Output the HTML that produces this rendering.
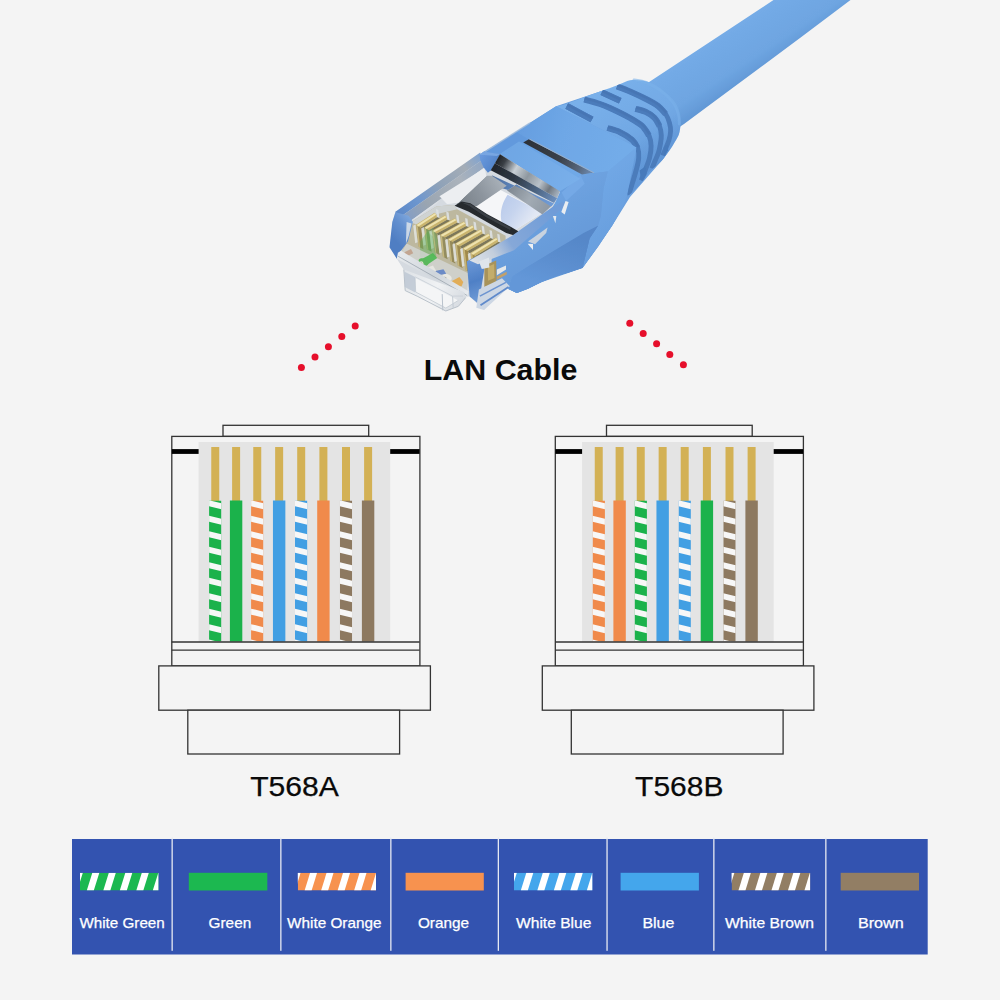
<!DOCTYPE html>
<html><head><meta charset="utf-8"><title>LAN Cable T568A / T568B</title>
<style>
html,body{margin:0;padding:0;background:#f4f4f4;}
body{width:1000px;height:1000px;position:relative;overflow:hidden;font-family:"Liberation Sans",sans-serif;}
</style></head><body>
<svg width="1000" height="1000" viewBox="0 0 1000 1000" style="position:absolute;left:0;top:0">
<defs>
<linearGradient id="gCable" gradientUnits="userSpaceOnUse" x1="700" y1="30" x2="738" y2="88"><stop offset="0" stop-color="#79b0e9"/><stop offset="0.3" stop-color="#73aae6"/><stop offset="0.75" stop-color="#6ea5e1"/><stop offset="1" stop-color="#6197d5"/></linearGradient>
<linearGradient id="gRibs" gradientUnits="userSpaceOnUse" x1="610" y1="85" x2="660" y2="170"><stop offset="0" stop-color="#79b0ea"/><stop offset="0.5" stop-color="#72a9e5"/><stop offset="1" stop-color="#6097d7"/></linearGradient>
<linearGradient id="gBody" gradientUnits="userSpaceOnUse" x1="560" y1="190" x2="600" y2="270"><stop offset="0" stop-color="#6da3e1"/><stop offset="0.6" stop-color="#689cda"/><stop offset="1" stop-color="#6397d6"/></linearGradient>
<linearGradient id="gSide" gradientUnits="userSpaceOnUse" x1="600" y1="170" x2="640" y2="215"><stop offset="0" stop-color="#70a8e6"/><stop offset="1" stop-color="#6a9fde"/></linearGradient>
<linearGradient id="gWedge" gradientUnits="userSpaceOnUse" x1="560" y1="230" x2="540" y2="285"><stop offset="0" stop-color="#5687c8"/><stop offset="0.5" stop-color="#5b8ecf"/><stop offset="1" stop-color="#6397d8"/></linearGradient>
<linearGradient id="gTop" gradientUnits="userSpaceOnUse" x1="520" y1="130" x2="620" y2="160"><stop offset="0" stop-color="#669ee0"/><stop offset="0.4" stop-color="#6ea7e6"/><stop offset="1" stop-color="#73ace9"/></linearGradient>
<linearGradient id="gRibShade" gradientUnits="userSpaceOnUse" x1="640" y1="110" x2="672" y2="150"><stop offset="0" stop-color="#5f95d6" stop-opacity="0"/><stop offset="0.5" stop-color="#5f95d6" stop-opacity="0"/><stop offset="1" stop-color="#5f94d5" stop-opacity="0.6"/></linearGradient>
<clipPath id="cRibs"><path d="M556.1,106.3 C557.8,105.9 561.7,105.4 566.0,104.0 C570.3,102.6 576.3,100.1 582.0,98.0 C587.7,95.9 594.0,93.7 600.0,91.5 C606.0,89.3 613.0,86.9 618.0,85.0 C623.0,83.1 626.0,81.0 630.0,80.3 C634.0,79.5 638.5,80.0 642.0,80.5 C645.5,81.0 648.0,81.8 651.0,83.0 C654.0,84.2 656.8,85.5 660.0,88.0 C663.2,90.5 667.2,94.5 670.0,98.0 C672.8,101.5 675.2,105.3 677.0,109.0 C678.8,112.7 680.1,116.2 680.5,120.0 C680.9,123.8 680.2,128.7 679.5,132.0 C678.8,135.3 677.9,136.6 676.0,140.0 C674.1,143.4 670.7,148.8 668.0,152.5 C665.3,156.2 663.0,159.4 660.0,162.5 C657.0,165.6 653.0,167.8 650.0,171.0 C647.0,174.2 644.8,178.6 642.0,182.0 C639.2,185.4 635.3,189.2 633.0,191.5 C630.7,193.8 628.8,195.2 628.0,196.0L627.0,196.5 L636.6,147.2Z"/></clipPath>
<linearGradient id="gRefl" gradientUnits="userSpaceOnUse" x1="498" y1="200" x2="530" y2="222"><stop offset="0" stop-color="#b7c9ea"/><stop offset="0.5" stop-color="#c6d4ee"/><stop offset="1" stop-color="#e2e8f4"/></linearGradient>
<linearGradient id="gFrameR" gradientUnits="userSpaceOnUse" x1="508" y1="190" x2="548" y2="214"><stop offset="0" stop-color="#7f8891"/><stop offset="0.5" stop-color="#a2abb4"/><stop offset="1" stop-color="#8c96a1"/></linearGradient>
<linearGradient id="gPanelB" gradientUnits="userSpaceOnUse" x1="490" y1="178" x2="550" y2="210"><stop offset="0" stop-color="#4a6c9c"/><stop offset="0.4" stop-color="#5d84bb"/><stop offset="1" stop-color="#6f9bd6"/></linearGradient>
<linearGradient id="gRamp" gradientUnits="userSpaceOnUse" x1="462" y1="205" x2="500" y2="180"><stop offset="0" stop-color="#7a828a"/><stop offset="0.5" stop-color="#8d959e"/><stop offset="1" stop-color="#a8b0b8"/></linearGradient>
<linearGradient id="gBandO" gradientUnits="userSpaceOnUse" x1="396" y1="212" x2="480" y2="154"><stop offset="0" stop-color="#5b88c8"/><stop offset="0.25" stop-color="#6e97cf"/><stop offset="0.5" stop-color="#8fa2b8"/><stop offset="0.8" stop-color="#a4adb7"/><stop offset="1" stop-color="#7fa3d2"/></linearGradient>
<linearGradient id="gBandI" gradientUnits="userSpaceOnUse" x1="400" y1="218" x2="484" y2="162"><stop offset="0" stop-color="#7f9cc9"/><stop offset="0.3" stop-color="#9aa5b1"/><stop offset="0.7" stop-color="#abb3bc"/><stop offset="1" stop-color="#8fa6c4"/></linearGradient>
<linearGradient id="gFrontL" gradientUnits="userSpaceOnUse" x1="390" y1="235" x2="412" y2="215"><stop offset="0" stop-color="#4f7ec3"/><stop offset="0.5" stop-color="#628fcf"/><stop offset="1" stop-color="#83abdf"/></linearGradient>
<linearGradient id="gBar" gradientUnits="userSpaceOnUse" x1="400" y1="255" x2="468" y2="295"><stop offset="0" stop-color="#e6e9ec"/><stop offset="0.5" stop-color="#cfd5db"/><stop offset="1" stop-color="#e8ebee"/></linearGradient>
<linearGradient id="gLatchC" gradientUnits="userSpaceOnUse" x1="405" y1="275" x2="462" y2="310"><stop offset="0" stop-color="#dfe3e7"/><stop offset="0.5" stop-color="#f0f2f4"/><stop offset="1" stop-color="#d4d9df"/></linearGradient>
<linearGradient id="gPillar" gradientUnits="userSpaceOnUse" x1="468" y1="262" x2="482" y2="300"><stop offset="0" stop-color="#6a97d6"/><stop offset="0.5" stop-color="#4f80c6"/><stop offset="1" stop-color="#6f9bd6"/></linearGradient>
<linearGradient id="gFront" gradientUnits="userSpaceOnUse" x1="520" y1="200" x2="560" y2="270"><stop offset="0" stop-color="#6fa4e2"/><stop offset="0.5" stop-color="#6a9edc"/><stop offset="1" stop-color="#6498d7"/></linearGradient>
<linearGradient id="gBandR" gradientUnits="userSpaceOnUse" x1="470" y1="262" x2="552" y2="208"><stop offset="0" stop-color="#dfe4ea"/><stop offset="0.25" stop-color="#c3cedc"/><stop offset="0.45" stop-color="#86a8d8"/><stop offset="1" stop-color="#6f9cd8"/></linearGradient>
<linearGradient id="gCorner" gradientUnits="userSpaceOnUse" x1="480" y1="156" x2="498" y2="168"><stop offset="0" stop-color="#6a9ade"/><stop offset="0.5" stop-color="#5c8dd2"/><stop offset="1" stop-color="#4f7fc5"/></linearGradient>
<linearGradient id="gSlot" gradientUnits="userSpaceOnUse" x1="528" y1="140" x2="592" y2="174"><stop offset="0" stop-color="#2d3238"/><stop offset="0.5" stop-color="#3a4049"/><stop offset="0.8" stop-color="#56657a"/><stop offset="1" stop-color="#6f8db5"/></linearGradient>
<linearGradient id="gLatchTop" gradientUnits="userSpaceOnUse" x1="505" y1="150" x2="575" y2="185"><stop offset="0" stop-color="#6ea6e4"/><stop offset="1" stop-color="#79afea"/></linearGradient>
<linearGradient id="gChrome" gradientUnits="userSpaceOnUse" x1="497" y1="158" x2="558" y2="195"><stop offset="0" stop-color="#1d2024"/><stop offset="0.12" stop-color="#3a3f45"/><stop offset="0.3" stop-color="#c9d0d6"/><stop offset="0.5" stop-color="#8e979f"/><stop offset="0.7" stop-color="#b9c1c9"/><stop offset="0.85" stop-color="#6f7780"/><stop offset="1" stop-color="#a7b3c0"/></linearGradient>
<linearGradient id="gStrip2" gradientUnits="userSpaceOnUse" x1="492" y1="166" x2="556" y2="200"><stop offset="0" stop-color="#20242a"/><stop offset="0.35" stop-color="#2f3945"/><stop offset="0.7" stop-color="#4d6583"/><stop offset="1" stop-color="#6d8fbd"/></linearGradient>
<filter id="soft" filterUnits="userSpaceOnUse" x="360" y="-20" width="540" height="360"><feGaussianBlur stdDeviation="0.45"/></filter>
</defs>
<rect width="1000" height="1000" fill="#f4f4f4"/>
<g id="photo" filter="url(#soft)">
<polygon points="640.0,88.0 773.5,0.0 788.7,-10.0 863.9,-10.0 850.5,0.0 800.0,38.0 716.0,100.3 684.0,124.0 660.0,140.0" fill="url(#gCable)" />
<polygon points="556.1,106.3 600.0,91.5 651.0,83.0 680.0,120.0 664.0,158.0 630.0,197.0 612.0,226.0 582.6,268.0 542.0,282.0 516.8,293.0 508.0,289.0 500.0,215.0 480.0,155.0" fill="#6a9fde" />
<path d="M556.1,106.3 C557.8,105.9 561.7,105.4 566.0,104.0 C570.3,102.6 576.3,100.1 582.0,98.0 C587.7,95.9 594.0,93.7 600.0,91.5 C606.0,89.3 613.0,86.9 618.0,85.0 C623.0,83.1 626.0,81.0 630.0,80.3 C634.0,79.5 638.5,80.0 642.0,80.5 C645.5,81.0 648.0,81.8 651.0,83.0 C654.0,84.2 656.8,85.5 660.0,88.0 C663.2,90.5 667.2,94.5 670.0,98.0 C672.8,101.5 675.2,105.3 677.0,109.0 C678.8,112.7 680.1,116.2 680.5,120.0 C680.9,123.8 680.2,128.7 679.5,132.0 C678.8,135.3 677.9,136.6 676.0,140.0 C674.1,143.4 670.7,148.8 668.0,152.5 C665.3,156.2 663.0,159.4 660.0,162.5 C657.0,165.6 653.0,167.8 650.0,171.0 C647.0,174.2 644.8,178.6 642.0,182.0 C639.2,185.4 635.3,189.2 633.0,191.5 C630.7,193.8 628.8,195.2 628.0,196.0L627.0,196.5 L636.6,147.2Z" fill="url(#gRibs)" />
<polygon points="607.9,171.6 636.6,147.2 626.7,196.4 623.2,206.2 612.0,225.8 598.0,246.8 582.6,267.8 570.0,272.0 556.0,276.2 542.0,281.8 528.0,288.8 516.8,293.0 508.4,288.8 500.0,281.8 492.0,260.0 500.0,215.0 560.0,196.0" fill="url(#gBody)" />
<polygon points="607.9,171.6 636.6,147.2 626.7,196.4 623.2,206.2 612.0,225.8 598.0,246.8 582.6,267.8 589.6,238.4 598.0,225.8 600.8,216.0 603.6,188.0" fill="url(#gSide)" />
<polygon points="598.0,225.8 589.6,238.4 582.6,267.8 570.0,272.0 556.0,276.2 542.0,281.8 528.0,288.8 516.8,293.0 508.4,288.8 512.6,276.2 528.0,266.4 556.0,249.6 584.0,232.8" fill="url(#gWedge)" />
<polygon points="556.1,106.3 636.6,147.2 607.9,171.6 591.8,173.2 579.9,179.1 559.6,191.0 500.1,153.9 479.8,154.6" fill="url(#gTop)" />
<polygon points="479.8,154.6 516.2,131.9 528.8,139.5 523.9,142.4 519.0,141.6 500.1,154.0" fill="#5f96db" opacity="0.55"/>
<polyline points="480.4,154.6 530.0,122.8" fill="none" stroke="#a9c0dc" stroke-width="1.4" opacity="0.8"/>
<path d="M556.1,106.3 C557.8,105.9 561.7,105.4 566.0,104.0 C570.3,102.6 576.3,100.1 582.0,98.0 C587.7,95.9 594.0,93.7 600.0,91.5 C606.0,89.3 613.0,86.9 618.0,85.0 C623.0,83.1 626.0,81.0 630.0,80.3 C634.0,79.5 638.5,80.0 642.0,80.5 C645.5,81.0 648.0,81.8 651.0,83.0 C654.0,84.2 656.8,85.5 660.0,88.0 C663.2,90.5 667.2,94.5 670.0,98.0 C672.8,101.5 675.2,105.3 677.0,109.0 C678.8,112.7 680.1,116.2 680.5,120.0 C680.9,123.8 680.2,128.7 679.5,132.0 C678.8,135.3 677.9,136.6 676.0,140.0 C674.1,143.4 670.7,148.8 668.0,152.5 C665.3,156.2 663.0,159.4 660.0,162.5 C657.0,165.6 653.0,167.8 650.0,171.0 C647.0,174.2 644.8,178.6 642.0,182.0 C639.2,185.4 635.3,189.2 633.0,191.5 C630.7,193.8 628.8,195.2 628.0,196.0L627.0,196.5 L636.6,147.2Z" fill="url(#gRibShade)" />
<g clip-path="url(#cRibs)">
<path d="M617.0,86.5 C619.2,87.3 625.2,89.4 630.0,91.5 C634.8,93.6 641.3,96.6 646.0,99.0 C650.7,101.4 654.7,103.5 658.0,106.0 C661.3,108.5 663.8,111.2 665.7,114.0 C667.6,116.8 668.7,120.2 669.5,123.0 C670.3,125.8 670.7,128.2 670.6,131.0 C670.5,133.8 669.9,137.0 669.0,140.0 C668.1,143.0 666.4,146.4 665.4,149.0 C664.4,151.6 663.2,154.4 662.8,155.5" fill="none" stroke="#4b7bbb" stroke-width="4.8" stroke-linecap="butt" stroke-linejoin="round"/>
<path d="M617.0,86.5 C619.2,87.3 625.2,89.4 630.0,91.5 C634.8,93.6 641.3,96.6 646.0,99.0 C650.7,101.4 654.7,103.5 658.0,106.0 C661.3,108.5 664.4,112.7 665.7,114.0" fill="none" stroke="#4b7bbb" stroke-width="6.0" stroke-linecap="butt" stroke-linejoin="round"/>
<path d="M617.5,85.3 C619.7,86.1 625.7,88.2 630.5,90.3 C635.3,92.4 641.8,95.4 646.5,97.8 C651.2,100.2 655.2,102.3 658.5,104.8 C661.8,107.3 664.9,111.5 666.2,112.8" fill="none" stroke="#4572ae" stroke-width="2.40" stroke-linecap="butt" opacity="0.55"/>
<path d="M601.8,92.2 C604.9,93.6 617.1,99.4 620.2,100.8" fill="none" stroke="#4b7bbb" stroke-width="6.2" stroke-linecap="butt" stroke-linejoin="round"/>
<path d="M601.8,92.2 C604.9,93.6 617.1,99.4 620.2,100.8" fill="none" stroke="#4b7bbb" stroke-width="6.2" stroke-linecap="butt" stroke-linejoin="round"/>
<path d="M602.3,91.0 C605.4,92.4 617.6,98.2 620.7,99.6" fill="none" stroke="#4572ae" stroke-width="2.48" stroke-linecap="butt" opacity="0.55"/>
<path d="M635.5,108.8 C637.2,109.3 642.8,110.5 646.0,112.0 C649.2,113.5 652.2,115.5 654.5,117.8 C656.8,120.1 658.4,123.0 659.5,126.0 C660.6,128.9 661.1,132.5 661.3,135.5 C661.4,138.5 660.9,141.2 660.4,144.0 C659.9,146.8 659.4,149.7 658.5,152.5 C657.6,155.3 656.1,158.3 655.0,161.0 C653.9,163.7 652.5,167.2 652.0,168.5" fill="none" stroke="#4b7bbb" stroke-width="4.9" stroke-linecap="butt" stroke-linejoin="round"/>
<path d="M635.5,108.8 C637.2,109.3 642.8,110.5 646.0,112.0 C649.2,113.5 652.2,115.5 654.5,117.8 C656.8,120.1 658.7,124.6 659.5,126.0" fill="none" stroke="#4b7bbb" stroke-width="6.0" stroke-linecap="butt" stroke-linejoin="round"/>
<path d="M636.0,107.6 C637.8,108.1 643.3,109.3 646.5,110.8 C649.7,112.3 652.8,114.3 655.0,116.6 C657.2,118.9 659.2,123.4 660.0,124.8" fill="none" stroke="#4572ae" stroke-width="2.40" stroke-linecap="butt" opacity="0.55"/>
<path d="M584.3,99.5 C586.9,100.2 595.7,102.6 600.0,104.0 C604.3,105.4 605.0,105.7 610.0,108.0 C615.0,110.3 624.7,115.0 630.0,118.0 C635.3,121.0 638.8,122.9 642.0,125.8 C645.2,128.7 647.5,132.1 649.0,135.5 C650.5,138.9 651.0,142.2 651.1,146.0 C651.2,149.8 650.4,154.2 649.5,158.0 C648.6,161.8 647.1,165.2 645.7,169.0 C644.3,172.8 642.0,178.6 641.2,180.5" fill="none" stroke="#4b7bbb" stroke-width="4.9" stroke-linecap="butt" stroke-linejoin="round"/>
<path d="M584.3,99.5 C586.9,100.2 595.7,102.6 600.0,104.0 C604.3,105.4 605.0,105.7 610.0,108.0 C615.0,110.3 624.7,115.0 630.0,118.0 C635.3,121.0 638.8,122.9 642.0,125.8 C645.2,128.7 647.8,133.9 649.0,135.5" fill="none" stroke="#4b7bbb" stroke-width="6.0" stroke-linecap="butt" stroke-linejoin="round"/>
<path d="M584.8,98.3 C587.4,99.0 596.2,101.4 600.5,102.8 C604.8,104.2 605.5,104.5 610.5,106.8 C615.5,109.1 625.2,113.8 630.5,116.8 C635.8,119.8 639.3,121.7 642.5,124.6 C645.7,127.5 648.3,132.7 649.5,134.3" fill="none" stroke="#4572ae" stroke-width="2.40" stroke-linecap="butt" opacity="0.55"/>
<path d="M566.8,105.9 C571.0,108.2 587.8,117.2 592.0,119.5" fill="none" stroke="#4b7bbb" stroke-width="6.2" stroke-linecap="butt" stroke-linejoin="round"/>
<path d="M566.8,105.9 C571.0,108.2 587.8,117.2 592.0,119.5" fill="none" stroke="#4b7bbb" stroke-width="6.2" stroke-linecap="butt" stroke-linejoin="round"/>
<path d="M567.3,104.7 C571.5,107.0 588.3,116.0 592.5,118.3" fill="none" stroke="#4572ae" stroke-width="2.48" stroke-linecap="butt" opacity="0.55"/>
<path d="M607.5,128.0 C609.6,128.7 615.9,130.2 620.0,132.2 C624.1,134.1 629.0,137.1 632.0,139.7 C635.0,142.3 636.6,144.9 637.7,148.0 C638.8,151.1 639.0,154.3 638.7,158.0 C638.5,161.7 637.4,165.5 636.2,170.0 C635.1,174.5 633.1,180.8 631.8,185.0 C630.5,189.2 629.0,193.3 628.5,195.0" fill="none" stroke="#4b7bbb" stroke-width="4.9" stroke-linecap="butt" stroke-linejoin="round"/>
<path d="M607.5,128.0 C609.6,128.7 615.9,130.2 620.0,132.2 C624.1,134.1 629.0,137.1 632.0,139.7 C635.0,142.3 636.8,146.6 637.7,148.0" fill="none" stroke="#4b7bbb" stroke-width="6.0" stroke-linecap="butt" stroke-linejoin="round"/>
<path d="M608.0,126.8 C610.1,127.5 616.4,129.1 620.5,131.0 C624.6,132.9 629.5,135.9 632.5,138.5 C635.5,141.1 637.2,145.4 638.2,146.8" fill="none" stroke="#4572ae" stroke-width="2.40" stroke-linecap="butt" opacity="0.55"/>
<polygon points="663.8,147.2 667.6,144.8 668.2,150.2 664.6,155.2" fill="#467abb" />
<polygon points="639.6,170.6 645.2,166.4 646.6,174.1 641.3,180.7" fill="#467abb" />
</g>
<path d="M634.0,80.0 C636.0,80.4 641.7,80.8 646.0,82.5 C650.3,84.2 655.5,86.8 660.0,90.0 C664.5,93.2 669.9,98.0 673.0,102.0 C676.1,106.0 677.5,110.3 678.5,114.0 C679.5,117.7 679.2,122.3 679.3,124.0" fill="none" stroke="#7ab1ea" stroke-width="3" opacity="0.6" stroke-linecap="round"/>
<polygon points="395.4,212.0 480.0,153.5 500.0,154.0 560.0,192.0 552.0,210.0 520.0,240.0 508.4,288.8 503.0,289.0 497.6,292.0 478.0,304.6 469.6,296.2 466.0,297.0 458.4,306.0 446.0,311.0 418.0,296.5 405.0,290.0 404.0,270.0 397.0,259.0 389.8,246.0 392.6,222.0" fill="#d5dae0" />
<polygon points="473.7,207.4 500.1,189.8 543.0,212.5 512.2,231.7" fill="#f5f6f8" />
<path d="M507.6,194.7 C506.9,196.0 504.5,199.5 503.4,202.4 C502.3,205.3 501.3,209.0 501.0,212.3 C500.7,215.6 500.8,219.6 501.8,222.2 C502.7,224.8 505.9,227.0 506.7,227.9L512.2,231.7 L543.0,212.5Z" fill="url(#gRefl)" />
<polygon points="507.0,190.4 516.4,184.4 552.4,205.0 542.4,214.4" fill="url(#gFrameR)" />
<polygon points="485.0,183.0 492.4,175.6 554.0,203.6 551.0,206.4 516.4,184.4 508.0,190.0" fill="url(#gPanelB)" />
<polygon points="456.7,204.3 484.7,175.7 492.0,175.7 506.7,185.8 476.6,206.2" fill="url(#gRamp)" />
<polygon points="439.5,196.3 484.3,168.3 486.4,176.0 458.4,202.6 447.2,204.0" fill="#e9ecef" />
<polygon points="454.5,205.8 461.6,201.6 470.4,203.3 486.9,213.9 511.1,227.1 518.3,231.3 516.1,235.9 506.2,233.0 484.2,220.6 468.8,211.7" fill="#25292d" />
<polygon points="461.6,202.5 470.4,204.0 486.9,214.8 511.1,228.0 510.0,230.0 485.8,217.0 469.3,206.0" fill="#3a3f45" />
<polygon points="395.1,212.0 480.2,152.6 482.2,159.9 401.0,216.6" fill="url(#gBandO)" />
<polygon points="401.0,216.6 482.2,159.9 484.7,167.3 409.7,221.6" fill="url(#gBandI)" />
<polygon points="409.7,221.6 484.7,167.3 486.4,176.0 458.4,202.6 441.6,198.4 436.0,204.0 416.7,218.0" fill="#dde1e6" />
<polygon points="439.5,196.3 484.3,168.3 486.4,176.0 458.4,202.6 447.2,204.0" fill="#eceef1" />
<polygon points="410.5,222.5 436.3,206.6 452.8,204.9 457.2,209.3 505.6,235.7 505.6,241.8 470.4,259.9 466.0,294.0 400.0,254.4 406.6,241.2" fill="#bdb89f" />
<polygon points="410.5,222.5 436.3,206.6 452.8,204.9 457.2,209.3 436.3,214.3 417.6,224.7" fill="#cfd3d3" />
<polygon points="420.7,227.5 438.0,216.6 440.0,218.8 422.7,229.9" fill="#6a6648" opacity="0.8"/>
<polygon points="416.0,224.8 421.2,227.5 423.4,249.3 418.7,246.8" fill="#9a8b58" />
<polygon points="416.0,224.8 417.8,225.7 420.2,247.6 418.7,246.8" fill="#d9c98a" opacity="0.7"/>
<polygon points="416.0,224.8 434.6,212.8 438.0,216.6 420.7,227.7" fill="#c9b46e" />
<polygon points="416.6,225.1 434.9,213.3 436.2,214.8 418.4,226.5" fill="#eee3b0" />
<polygon points="428.9,230.0 448.2,219.0 450.2,221.2 430.9,232.4" fill="#6a6648" opacity="0.8"/>
<polygon points="424.2,227.3 429.4,230.0 431.6,251.8 426.9,249.3" fill="#7f9a5c" />
<polygon points="424.2,227.3 426.0,228.2 428.4,250.1 426.9,249.3" fill="#d9c98a" opacity="0.7"/>
<polygon points="424.2,227.3 444.8,215.2 448.2,219.0 428.9,230.2" fill="#c9b46e" />
<polygon points="424.8,227.6 445.1,215.7 446.4,217.2 426.6,229.0" fill="#eee3b0" />
<polygon points="436.8,233.3 458.1,222.1 460.1,224.3 438.8,235.7" fill="#6a6648" opacity="0.8"/>
<polygon points="432.1,230.6 437.3,233.3 439.5,255.1 434.8,252.6" fill="#8a9560" />
<polygon points="432.1,230.6 433.9,231.5 436.3,253.4 434.8,252.6" fill="#d9c98a" opacity="0.7"/>
<polygon points="432.1,230.6 454.7,218.3 458.1,222.1 436.8,233.5" fill="#c9b46e" />
<polygon points="432.7,230.9 455.0,218.8 456.3,220.3 434.5,232.3" fill="#eee3b0" />
<polygon points="444.9,237.4 467.1,225.4 469.1,227.6 446.9,239.8" fill="#6a6648" opacity="0.8"/>
<polygon points="440.2,234.7 445.4,237.4 447.6,259.2 442.9,256.7" fill="#938c5e" />
<polygon points="440.2,234.7 442.0,235.6 444.4,257.5 442.9,256.7" fill="#d9c98a" opacity="0.7"/>
<polygon points="440.2,234.7 463.7,221.6 467.1,225.4 444.9,237.6" fill="#c9b46e" />
<polygon points="440.8,235.0 464.0,222.1 465.3,223.6 442.6,236.4" fill="#eee3b0" />
<polygon points="452.6,241.8 475.4,229.1 477.4,231.3 454.6,244.2" fill="#6a6648" opacity="0.8"/>
<polygon points="447.9,239.1 453.1,241.8 455.3,263.6 450.6,261.1" fill="#958a5a" />
<polygon points="447.9,239.1 449.7,240.0 452.1,261.9 450.6,261.1" fill="#d9c98a" opacity="0.7"/>
<polygon points="447.9,239.1 472.0,225.3 475.4,229.1 452.6,242.0" fill="#c9b46e" />
<polygon points="448.5,239.4 472.3,225.8 473.6,227.3 450.3,240.8" fill="#eee3b0" />
<polygon points="459.9,246.2 483.6,233.1 485.6,235.3 461.9,248.6" fill="#6a6648" opacity="0.8"/>
<polygon points="455.2,243.5 460.4,246.2 462.6,268.0 457.9,265.5" fill="#9d8a50" />
<polygon points="455.2,243.5 457.0,244.4 459.4,266.3 457.9,265.5" fill="#d9c98a" opacity="0.7"/>
<polygon points="455.2,243.5 480.2,229.3 483.6,233.1 459.9,246.4" fill="#c9b46e" />
<polygon points="455.8,243.8 480.5,229.8 481.8,231.3 457.6,245.2" fill="#eee3b0" />
<polygon points="467.6,250.9 491.5,237.4 493.5,239.6 469.6,253.3" fill="#6a6648" opacity="0.8"/>
<polygon points="462.9,248.2 468.1,250.9 470.3,272.7 465.6,270.2" fill="#a08a4c" />
<polygon points="462.9,248.2 464.7,249.1 467.1,271.0 465.6,270.2" fill="#d9c98a" opacity="0.7"/>
<polygon points="462.9,248.2 488.1,233.6 491.5,237.4 467.6,251.1" fill="#c9b46e" />
<polygon points="463.5,248.5 488.4,234.1 489.7,235.6 465.3,249.9" fill="#eee3b0" />
<polygon points="475.3,255.7 499.2,241.2 501.2,243.4 477.3,258.1" fill="#6a6648" opacity="0.8"/>
<polygon points="470.6,253.0 475.8,255.7 478.0,277.5 473.3,275.0" fill="#a38c4e" />
<polygon points="470.6,253.0 472.4,253.9 474.8,275.8 473.3,275.0" fill="#d9c98a" opacity="0.7"/>
<polygon points="470.6,253.0 495.8,237.4 499.2,241.2 475.3,255.9" fill="#c9b46e" />
<polygon points="471.2,253.3 496.1,237.9 497.4,239.4 473.0,254.7" fill="#eee3b0" />
<polygon points="436.0,209.1 438.4,210.0 439.4,218.1 436.8,217.1" fill="#dde1e3" opacity="0.9"/>
<polygon points="446.2,211.5 448.6,212.4 449.6,220.5 447.0,219.5" fill="#dde1e3" opacity="0.9"/>
<polygon points="456.1,214.6 458.5,215.5 459.5,223.6 456.9,222.6" fill="#dde1e3" opacity="0.9"/>
<polygon points="465.1,217.9 467.5,218.8 468.5,226.9 465.9,225.9" fill="#dde1e3" opacity="0.9"/>
<polygon points="473.4,221.6 475.8,222.5 476.8,230.6 474.2,229.6" fill="#dde1e3" opacity="0.9"/>
<polygon points="481.6,225.6 484.0,226.5 485.0,234.6 482.4,233.6" fill="#dde1e3" opacity="0.9"/>
<polygon points="489.5,229.9 491.9,230.8 492.9,238.9 490.3,237.9" fill="#dde1e3" opacity="0.9"/>
<polygon points="497.2,233.7 499.6,234.6 500.6,242.7 498.0,241.7" fill="#dde1e3" opacity="0.9"/>
<polygon points="413.2,225.8 415.6,224.5 417.6,242.3 415.2,243.3" fill="#e3e4df" opacity="0.85"/>
<polygon points="421.4,228.3 423.8,227.0 425.8,244.8 423.4,245.8" fill="#e3e4df" opacity="0.85"/>
<polygon points="429.3,231.6 431.7,230.3 433.7,248.1 431.3,249.1" fill="#e3e4df" opacity="0.85"/>
<polygon points="437.4,235.7 439.8,234.4 441.8,252.2 439.4,253.2" fill="#e3e4df" opacity="0.85"/>
<polygon points="445.1,240.1 447.5,238.8 449.5,256.6 447.1,257.6" fill="#e3e4df" opacity="0.85"/>
<polygon points="452.4,244.5 454.8,243.2 456.8,261.0 454.4,262.0" fill="#e3e4df" opacity="0.85"/>
<polygon points="460.1,249.2 462.5,247.9 464.5,265.7 462.1,266.7" fill="#e3e4df" opacity="0.85"/>
<polygon points="467.8,254.0 470.2,252.7 472.2,270.5 469.8,271.5" fill="#e3e4df" opacity="0.85"/>
<polygon points="420.4,241.2 427.5,231.3 433.0,236.8 436.3,256.6 427.5,261.0 419.8,256.6" fill="#55b158" opacity="0.42"/>
<polygon points="427.5,231.3 433.0,228.0 438.0,241.2 436.3,250.0 433.0,236.8" fill="#7cc07a" opacity="0.35"/>
<polygon points="400.0,254.4 406.6,243.4 413.2,246.7 470.4,274.2 466.0,294.0" fill="#d3d6d4" opacity="0.8"/>
<polygon points="420.9,259.4 433.0,253.1 437.2,257.9 426.2,265.6" fill="#52b955" opacity="0.95"/>
<ellipse cx="423.5" cy="262" rx="5.2" ry="3.4" transform="rotate(25 423.5 262)" fill="#5ab75c"/>
<ellipse cx="421.2" cy="263.2" rx="2.2" ry="1.9" fill="#dbe6d0"/>
<ellipse cx="421.2" cy="263.4" rx="1.1" ry="0.9" fill="#9c9a82"/>
<ellipse cx="447" cy="277.5" rx="5.0" ry="3.4" transform="rotate(25 447 277.5)" fill="#e9e8e2"/>
<ellipse cx="444.6" cy="278.6" rx="2.0" ry="1.8" fill="#8f8b78"/>
<polygon points="450.1,281.9 459.4,277.0 463.3,281.9 461.6,286.3 453.9,287.4" fill="#e2ab52" opacity="0.95"/>
<polygon points="435.2,270.9 443.5,269.3 446.2,273.7 438.5,275.3" fill="#5a7fc6" opacity="0.85"/>
<polygon points="427.5,267.6 433.0,265.4 436.3,270.9 430.8,272.0" fill="#e8e8e2" opacity="0.9"/>
<polygon points="404.4,252.2 411.0,248.9 413.2,253.3 406.6,256.6" fill="#b9896a" opacity="0.6"/>
<polygon points="395.4,212.2 408.7,215.7 412.9,222.0 408.0,241.6 398.9,253.5 396.8,258.7 389.5,247.2 392.3,222.0" fill="url(#gFrontL)" />
<polygon points="406.6,222.0 411.5,223.4 408.7,236.0 405.9,243.7" fill="#e4e8ec" opacity="0.8"/>
<polygon points="397.9,252.8 401.0,250.7 468.5,291.3 467.1,296.9 396.8,258.7" fill="url(#gBar)" />
<polyline points="398.2,256.3 467.1,295.5" fill="none" stroke="#9aa4ae" stroke-width="0.8" />
<polygon points="403.8,269.6 405.2,290.6 417.8,296.5 445.8,311.0 458.4,306.3 465.7,297.6 464.0,292.0" fill="url(#gLatchC)" />
<polygon points="415.0,278.0 458.4,300.4 445.8,308.1 415.7,292.0" fill="#f4f5f6" />
<polyline points="403.8,269.6 405.2,290.6 417.8,296.5 445.8,311.0 458.4,306.3 465.7,297.6" fill="none" stroke="#b3bcc5" stroke-width="0.9" />
<polyline points="415.0,278.0 415.7,292.0 445.8,308.1 458.4,300.4" fill="none" stroke="#c2c9d0" stroke-width="0.8" />
<polygon points="404.5,271.7 415.2,276.9 415.2,292.5 404.8,287.0" fill="#bcc6d2" opacity="0.8"/>
<polyline points="442.2,294.1 442.8,310.4" fill="none" stroke="#b9c2cc" stroke-width="1.0" />
<polyline points="452.6,296.1 453.2,307.8" fill="none" stroke="#c2cad3" stroke-width="1.0" />
<polyline points="415.2,276.9 452.6,296.1 463.0,296.1" fill="none" stroke="#c9d0d8" stroke-width="0.9" />
<polygon points="466.8,261.2 478.0,255.6 484.3,269.6 478.7,303.9 469.6,296.5" fill="url(#gPillar)" />
<polygon points="504.2,247.5 528.0,227.2 551.8,208.3 561.6,192.9 580.5,174.7 595.2,173.3 607.8,171.2 603.6,188.0 600.8,216.0 598.0,225.8 556.0,249.6 528.0,266.4 512.6,276.2 508.4,288.8 500.0,283.2 491.6,286.0 491.6,258.0" fill="url(#gFront)" />
<polygon points="598.0,225.8 589.6,238.4 582.6,267.8 570.0,272.0 556.0,276.2 542.0,281.8 528.0,288.8 516.8,293.0 508.4,288.8 512.6,276.2 528.0,266.4 556.0,249.6 584.0,232.8" fill="url(#gWedge)" />
<polygon points="469.6,260.5 511.6,236.0 551.8,207.6 561.6,202.0 567.5,203.7 514.0,250.3 478.0,264.3" fill="url(#gBandR)" />
<polygon points="561.6,192.5 580.5,175.1 584.7,183.8 566.1,200.9" fill="#74a9e6" />
<polygon points="561.3,212.1 565.5,200.9 568.6,202.0 564.7,214.6" fill="#e9edf1" />
<polygon points="552.9,216.0 556.3,216.0 555.4,223.3" fill="#e4e9ee" />
<polygon points="527.7,243.7 533.0,244.0 533.0,249.9" fill="#eef1f4" />
<polygon points="528.0,241.5 547.6,227.5 546.2,233.1 535.0,244.3" fill="#c9d3df" />
<polygon points="484.3,265.4 496.2,260.5 496.5,283.6 484.3,287.1" fill="#a8935a" />
<polygon points="487.8,266.8 494.1,264.0 494.5,278.0 488.1,280.8" fill="#c4ad6a" />
<polygon points="496.9,269.6 506.0,265.4 506.0,269.6 496.9,275.2" fill="#e5e8ea" />
<polygon points="496.9,276.6 506.7,271.7 506.7,274.5 496.9,279.7" fill="#d9a14d" opacity="0.8"/>
<polygon points="478.9,289.6 502.0,278.2 509.8,286.3 484.1,310.1 476.3,307.8" fill="#cdd7e4" />
<polyline points="479.9,296.1 505.9,282.4" fill="none" stroke="#6c94d0" stroke-width="1.6" />
<polyline points="480.5,305.2 508.5,287.0" fill="none" stroke="#5f8acb" stroke-width="1.8" />
<polygon points="478.9,261.6 489.0,257.4 489.3,267.5 481.8,269.1" fill="#dfe5eb" />
<polygon points="479.5,154.9 484.0,151.5 500.2,154.3 495.2,163.3 491.0,170.3 487.9,172.8 483.7,167.5 480.4,160.5" fill="url(#gCorner)" />
<polygon points="479.5,154.9 484.0,151.5 500.2,154.3 496.6,156.0 484.0,154.9" fill="#78a6e2" />
<polygon points="528.8,139.2 593.2,172.8 582.0,174.5 523.2,142.4" fill="url(#gSlot)" />
<polyline points="529.5,139.1 593.9,172.7" fill="none" stroke="#9fb0c4" stroke-width="0.9" />
<polygon points="499.8,154.0 519.0,141.4 580.2,178.8 559.9,191.3" fill="url(#gLatchTop)" />
<polygon points="494.9,163.3 500.0,154.3 559.9,191.3 557.1,198.3" fill="url(#gChrome)" />
<polygon points="490.7,170.3 494.9,163.3 557.1,198.3 554.0,202.9" fill="url(#gStrip2)" />
</g>
<circle cx="301.4" cy="367.6" r="3.5" fill="#e60f2b"/>
<circle cx="315" cy="357" r="3.5" fill="#e60f2b"/>
<circle cx="328.4" cy="346.8" r="3.5" fill="#e60f2b"/>
<circle cx="341.8" cy="336.4" r="3.5" fill="#e60f2b"/>
<circle cx="355.2" cy="326" r="3.5" fill="#e60f2b"/>
<circle cx="629.8" cy="323.2" r="3.5" fill="#e60f2b"/>
<circle cx="643.2" cy="333.4" r="3.5" fill="#e60f2b"/>
<circle cx="656.6" cy="343.8" r="3.5" fill="#e60f2b"/>
<circle cx="669.8" cy="354.4" r="3.5" fill="#e60f2b"/>
<circle cx="683.4" cy="364.8" r="3.5" fill="#e60f2b"/>
<g transform="translate(0,0)">
<rect x="223" y="425.3" width="145.7" height="11.1" fill="#f4f4f4" stroke="#333333" stroke-width="1.3"/>
<rect x="171.8" y="436.4" width="248.1" height="229.5" fill="#f4f4f4" stroke="#333333" stroke-width="1.3"/>
<rect x="171.8" y="449.1" width="247.8" height="4.8" fill="#000"/>
<rect x="198.6" y="442" width="191.6" height="199.8" fill="#e4e4e4"/>
<rect x="211.25" y="447" width="8.0" height="54" fill="#d3b155"/>
<svg x="209.05" y="500.5" width="12.4" height="141.1" overflow="hidden"><rect width="12.4" height="141.1" fill="#1bb24b"/>
<polygon points="0,-21.68 12.4,-18.68 12.4,-12.68 0,-15.68" fill="#f7f7f7" transform="translate(0,6)"/>
<polygon points="0,-6.20 12.4,-3.20 12.4,2.80 0,-0.20" fill="#f7f7f7" transform="translate(0,6)"/>
<polygon points="0,9.28 12.4,12.28 12.4,18.28 0,15.28" fill="#f7f7f7" transform="translate(0,6)"/>
<polygon points="0,24.76 12.4,27.76 12.4,33.76 0,30.76" fill="#f7f7f7" transform="translate(0,6)"/>
<polygon points="0,40.24 12.4,43.24 12.4,49.24 0,46.24" fill="#f7f7f7" transform="translate(0,6)"/>
<polygon points="0,55.72 12.4,58.72 12.4,64.72 0,61.72" fill="#f7f7f7" transform="translate(0,6)"/>
<polygon points="0,71.20 12.4,74.20 12.4,80.20 0,77.20" fill="#f7f7f7" transform="translate(0,6)"/>
<polygon points="0,86.68 12.4,89.68 12.4,95.68 0,92.68" fill="#f7f7f7" transform="translate(0,6)"/>
<polygon points="0,102.16 12.4,105.16 12.4,111.16 0,108.16" fill="#f7f7f7" transform="translate(0,6)"/>
<polygon points="0,117.64 12.4,120.64 12.4,126.64 0,123.64" fill="#f7f7f7" transform="translate(0,6)"/>
<polygon points="0,133.12 12.4,136.12 12.4,142.12 0,139.12" fill="#f7f7f7" transform="translate(0,6)"/>
<polygon points="0,148.60 12.4,151.60 12.4,157.60 0,154.60" fill="#f7f7f7" transform="translate(0,6)"/>
</svg>
<rect x="232.10" y="447" width="8.0" height="54" fill="#d3b155"/>
<rect x="229.90" y="500.5" width="12.4" height="141.1" fill="#1bb24b"/>
<rect x="253.25" y="447" width="8.0" height="54" fill="#d3b155"/>
<svg x="251.05" y="500.5" width="12.4" height="141.1" overflow="hidden"><rect width="12.4" height="141.1" fill="#f08a4b"/>
<polygon points="0,-21.68 12.4,-18.68 12.4,-12.68 0,-15.68" fill="#f7f7f7" transform="translate(0,6)"/>
<polygon points="0,-6.20 12.4,-3.20 12.4,2.80 0,-0.20" fill="#f7f7f7" transform="translate(0,6)"/>
<polygon points="0,9.28 12.4,12.28 12.4,18.28 0,15.28" fill="#f7f7f7" transform="translate(0,6)"/>
<polygon points="0,24.76 12.4,27.76 12.4,33.76 0,30.76" fill="#f7f7f7" transform="translate(0,6)"/>
<polygon points="0,40.24 12.4,43.24 12.4,49.24 0,46.24" fill="#f7f7f7" transform="translate(0,6)"/>
<polygon points="0,55.72 12.4,58.72 12.4,64.72 0,61.72" fill="#f7f7f7" transform="translate(0,6)"/>
<polygon points="0,71.20 12.4,74.20 12.4,80.20 0,77.20" fill="#f7f7f7" transform="translate(0,6)"/>
<polygon points="0,86.68 12.4,89.68 12.4,95.68 0,92.68" fill="#f7f7f7" transform="translate(0,6)"/>
<polygon points="0,102.16 12.4,105.16 12.4,111.16 0,108.16" fill="#f7f7f7" transform="translate(0,6)"/>
<polygon points="0,117.64 12.4,120.64 12.4,126.64 0,123.64" fill="#f7f7f7" transform="translate(0,6)"/>
<polygon points="0,133.12 12.4,136.12 12.4,142.12 0,139.12" fill="#f7f7f7" transform="translate(0,6)"/>
<polygon points="0,148.60 12.4,151.60 12.4,157.60 0,154.60" fill="#f7f7f7" transform="translate(0,6)"/>
</svg>
<rect x="275.15" y="447" width="8.0" height="54" fill="#d3b155"/>
<rect x="272.95" y="500.5" width="12.4" height="141.1" fill="#429fe3"/>
<rect x="297.20" y="447" width="8.0" height="54" fill="#d3b155"/>
<svg x="295.00" y="500.5" width="12.4" height="141.1" overflow="hidden"><rect width="12.4" height="141.1" fill="#429fe3"/>
<polygon points="0,-21.68 12.4,-18.68 12.4,-12.68 0,-15.68" fill="#f7f7f7" transform="translate(0,6)"/>
<polygon points="0,-6.20 12.4,-3.20 12.4,2.80 0,-0.20" fill="#f7f7f7" transform="translate(0,6)"/>
<polygon points="0,9.28 12.4,12.28 12.4,18.28 0,15.28" fill="#f7f7f7" transform="translate(0,6)"/>
<polygon points="0,24.76 12.4,27.76 12.4,33.76 0,30.76" fill="#f7f7f7" transform="translate(0,6)"/>
<polygon points="0,40.24 12.4,43.24 12.4,49.24 0,46.24" fill="#f7f7f7" transform="translate(0,6)"/>
<polygon points="0,55.72 12.4,58.72 12.4,64.72 0,61.72" fill="#f7f7f7" transform="translate(0,6)"/>
<polygon points="0,71.20 12.4,74.20 12.4,80.20 0,77.20" fill="#f7f7f7" transform="translate(0,6)"/>
<polygon points="0,86.68 12.4,89.68 12.4,95.68 0,92.68" fill="#f7f7f7" transform="translate(0,6)"/>
<polygon points="0,102.16 12.4,105.16 12.4,111.16 0,108.16" fill="#f7f7f7" transform="translate(0,6)"/>
<polygon points="0,117.64 12.4,120.64 12.4,126.64 0,123.64" fill="#f7f7f7" transform="translate(0,6)"/>
<polygon points="0,133.12 12.4,136.12 12.4,142.12 0,139.12" fill="#f7f7f7" transform="translate(0,6)"/>
<polygon points="0,148.60 12.4,151.60 12.4,157.60 0,154.60" fill="#f7f7f7" transform="translate(0,6)"/>
</svg>
<rect x="319.40" y="447" width="8.0" height="54" fill="#d3b155"/>
<rect x="317.20" y="500.5" width="12.4" height="141.1" fill="#f08a4b"/>
<rect x="342.00" y="447" width="8.0" height="54" fill="#d3b155"/>
<svg x="339.80" y="500.5" width="12.4" height="141.1" overflow="hidden"><rect width="12.4" height="141.1" fill="#8d7960"/>
<polygon points="0,-21.68 12.4,-18.68 12.4,-12.68 0,-15.68" fill="#f7f7f7" transform="translate(0,6)"/>
<polygon points="0,-6.20 12.4,-3.20 12.4,2.80 0,-0.20" fill="#f7f7f7" transform="translate(0,6)"/>
<polygon points="0,9.28 12.4,12.28 12.4,18.28 0,15.28" fill="#f7f7f7" transform="translate(0,6)"/>
<polygon points="0,24.76 12.4,27.76 12.4,33.76 0,30.76" fill="#f7f7f7" transform="translate(0,6)"/>
<polygon points="0,40.24 12.4,43.24 12.4,49.24 0,46.24" fill="#f7f7f7" transform="translate(0,6)"/>
<polygon points="0,55.72 12.4,58.72 12.4,64.72 0,61.72" fill="#f7f7f7" transform="translate(0,6)"/>
<polygon points="0,71.20 12.4,74.20 12.4,80.20 0,77.20" fill="#f7f7f7" transform="translate(0,6)"/>
<polygon points="0,86.68 12.4,89.68 12.4,95.68 0,92.68" fill="#f7f7f7" transform="translate(0,6)"/>
<polygon points="0,102.16 12.4,105.16 12.4,111.16 0,108.16" fill="#f7f7f7" transform="translate(0,6)"/>
<polygon points="0,117.64 12.4,120.64 12.4,126.64 0,123.64" fill="#f7f7f7" transform="translate(0,6)"/>
<polygon points="0,133.12 12.4,136.12 12.4,142.12 0,139.12" fill="#f7f7f7" transform="translate(0,6)"/>
<polygon points="0,148.60 12.4,151.60 12.4,157.60 0,154.60" fill="#f7f7f7" transform="translate(0,6)"/>
</svg>
<rect x="364.10" y="447" width="8.0" height="54" fill="#d3b155"/>
<rect x="361.90" y="500.5" width="12.4" height="141.1" fill="#8d7960"/>
<line x1="171.8" x2="419.6" y1="642" y2="642" stroke="#333333" stroke-width="1.3"/>
<line x1="171.8" x2="419.6" y1="650.2" y2="650.2" stroke="#333333" stroke-width="1.3"/>
<rect x="158.8" y="665.9" width="271.6" height="44.3" fill="#f4f4f4" stroke="#333333" stroke-width="1.3"/>
<rect x="187.8" y="710.2" width="211.8" height="43.8" fill="#f4f4f4" stroke="#333333" stroke-width="1.3"/>
</g>
<g transform="translate(383.5,0)">
<rect x="223" y="425.3" width="145.7" height="11.1" fill="#f4f4f4" stroke="#333333" stroke-width="1.3"/>
<rect x="171.8" y="436.4" width="248.1" height="229.5" fill="#f4f4f4" stroke="#333333" stroke-width="1.3"/>
<rect x="171.8" y="449.1" width="247.8" height="4.8" fill="#000"/>
<rect x="198.6" y="442" width="191.6" height="199.8" fill="#e4e4e4"/>
<rect x="211.25" y="447" width="8.0" height="54" fill="#d3b155"/>
<svg x="209.05" y="500.5" width="12.4" height="141.1" overflow="hidden"><rect width="12.4" height="141.1" fill="#f08a4b"/>
<polygon points="0,-21.68 12.4,-18.68 12.4,-12.68 0,-15.68" fill="#f7f7f7" transform="translate(0,6)"/>
<polygon points="0,-6.20 12.4,-3.20 12.4,2.80 0,-0.20" fill="#f7f7f7" transform="translate(0,6)"/>
<polygon points="0,9.28 12.4,12.28 12.4,18.28 0,15.28" fill="#f7f7f7" transform="translate(0,6)"/>
<polygon points="0,24.76 12.4,27.76 12.4,33.76 0,30.76" fill="#f7f7f7" transform="translate(0,6)"/>
<polygon points="0,40.24 12.4,43.24 12.4,49.24 0,46.24" fill="#f7f7f7" transform="translate(0,6)"/>
<polygon points="0,55.72 12.4,58.72 12.4,64.72 0,61.72" fill="#f7f7f7" transform="translate(0,6)"/>
<polygon points="0,71.20 12.4,74.20 12.4,80.20 0,77.20" fill="#f7f7f7" transform="translate(0,6)"/>
<polygon points="0,86.68 12.4,89.68 12.4,95.68 0,92.68" fill="#f7f7f7" transform="translate(0,6)"/>
<polygon points="0,102.16 12.4,105.16 12.4,111.16 0,108.16" fill="#f7f7f7" transform="translate(0,6)"/>
<polygon points="0,117.64 12.4,120.64 12.4,126.64 0,123.64" fill="#f7f7f7" transform="translate(0,6)"/>
<polygon points="0,133.12 12.4,136.12 12.4,142.12 0,139.12" fill="#f7f7f7" transform="translate(0,6)"/>
<polygon points="0,148.60 12.4,151.60 12.4,157.60 0,154.60" fill="#f7f7f7" transform="translate(0,6)"/>
</svg>
<rect x="232.10" y="447" width="8.0" height="54" fill="#d3b155"/>
<rect x="229.90" y="500.5" width="12.4" height="141.1" fill="#f08a4b"/>
<rect x="253.25" y="447" width="8.0" height="54" fill="#d3b155"/>
<svg x="251.05" y="500.5" width="12.4" height="141.1" overflow="hidden"><rect width="12.4" height="141.1" fill="#1bb24b"/>
<polygon points="0,-21.68 12.4,-18.68 12.4,-12.68 0,-15.68" fill="#f7f7f7" transform="translate(0,6)"/>
<polygon points="0,-6.20 12.4,-3.20 12.4,2.80 0,-0.20" fill="#f7f7f7" transform="translate(0,6)"/>
<polygon points="0,9.28 12.4,12.28 12.4,18.28 0,15.28" fill="#f7f7f7" transform="translate(0,6)"/>
<polygon points="0,24.76 12.4,27.76 12.4,33.76 0,30.76" fill="#f7f7f7" transform="translate(0,6)"/>
<polygon points="0,40.24 12.4,43.24 12.4,49.24 0,46.24" fill="#f7f7f7" transform="translate(0,6)"/>
<polygon points="0,55.72 12.4,58.72 12.4,64.72 0,61.72" fill="#f7f7f7" transform="translate(0,6)"/>
<polygon points="0,71.20 12.4,74.20 12.4,80.20 0,77.20" fill="#f7f7f7" transform="translate(0,6)"/>
<polygon points="0,86.68 12.4,89.68 12.4,95.68 0,92.68" fill="#f7f7f7" transform="translate(0,6)"/>
<polygon points="0,102.16 12.4,105.16 12.4,111.16 0,108.16" fill="#f7f7f7" transform="translate(0,6)"/>
<polygon points="0,117.64 12.4,120.64 12.4,126.64 0,123.64" fill="#f7f7f7" transform="translate(0,6)"/>
<polygon points="0,133.12 12.4,136.12 12.4,142.12 0,139.12" fill="#f7f7f7" transform="translate(0,6)"/>
<polygon points="0,148.60 12.4,151.60 12.4,157.60 0,154.60" fill="#f7f7f7" transform="translate(0,6)"/>
</svg>
<rect x="275.15" y="447" width="8.0" height="54" fill="#d3b155"/>
<rect x="272.95" y="500.5" width="12.4" height="141.1" fill="#429fe3"/>
<rect x="297.20" y="447" width="8.0" height="54" fill="#d3b155"/>
<svg x="295.00" y="500.5" width="12.4" height="141.1" overflow="hidden"><rect width="12.4" height="141.1" fill="#429fe3"/>
<polygon points="0,-21.68 12.4,-18.68 12.4,-12.68 0,-15.68" fill="#f7f7f7" transform="translate(0,6)"/>
<polygon points="0,-6.20 12.4,-3.20 12.4,2.80 0,-0.20" fill="#f7f7f7" transform="translate(0,6)"/>
<polygon points="0,9.28 12.4,12.28 12.4,18.28 0,15.28" fill="#f7f7f7" transform="translate(0,6)"/>
<polygon points="0,24.76 12.4,27.76 12.4,33.76 0,30.76" fill="#f7f7f7" transform="translate(0,6)"/>
<polygon points="0,40.24 12.4,43.24 12.4,49.24 0,46.24" fill="#f7f7f7" transform="translate(0,6)"/>
<polygon points="0,55.72 12.4,58.72 12.4,64.72 0,61.72" fill="#f7f7f7" transform="translate(0,6)"/>
<polygon points="0,71.20 12.4,74.20 12.4,80.20 0,77.20" fill="#f7f7f7" transform="translate(0,6)"/>
<polygon points="0,86.68 12.4,89.68 12.4,95.68 0,92.68" fill="#f7f7f7" transform="translate(0,6)"/>
<polygon points="0,102.16 12.4,105.16 12.4,111.16 0,108.16" fill="#f7f7f7" transform="translate(0,6)"/>
<polygon points="0,117.64 12.4,120.64 12.4,126.64 0,123.64" fill="#f7f7f7" transform="translate(0,6)"/>
<polygon points="0,133.12 12.4,136.12 12.4,142.12 0,139.12" fill="#f7f7f7" transform="translate(0,6)"/>
<polygon points="0,148.60 12.4,151.60 12.4,157.60 0,154.60" fill="#f7f7f7" transform="translate(0,6)"/>
</svg>
<rect x="319.40" y="447" width="8.0" height="54" fill="#d3b155"/>
<rect x="317.20" y="500.5" width="12.4" height="141.1" fill="#1bb24b"/>
<rect x="342.00" y="447" width="8.0" height="54" fill="#d3b155"/>
<svg x="339.80" y="500.5" width="12.4" height="141.1" overflow="hidden"><rect width="12.4" height="141.1" fill="#8d7960"/>
<polygon points="0,-21.68 12.4,-18.68 12.4,-12.68 0,-15.68" fill="#f7f7f7" transform="translate(0,6)"/>
<polygon points="0,-6.20 12.4,-3.20 12.4,2.80 0,-0.20" fill="#f7f7f7" transform="translate(0,6)"/>
<polygon points="0,9.28 12.4,12.28 12.4,18.28 0,15.28" fill="#f7f7f7" transform="translate(0,6)"/>
<polygon points="0,24.76 12.4,27.76 12.4,33.76 0,30.76" fill="#f7f7f7" transform="translate(0,6)"/>
<polygon points="0,40.24 12.4,43.24 12.4,49.24 0,46.24" fill="#f7f7f7" transform="translate(0,6)"/>
<polygon points="0,55.72 12.4,58.72 12.4,64.72 0,61.72" fill="#f7f7f7" transform="translate(0,6)"/>
<polygon points="0,71.20 12.4,74.20 12.4,80.20 0,77.20" fill="#f7f7f7" transform="translate(0,6)"/>
<polygon points="0,86.68 12.4,89.68 12.4,95.68 0,92.68" fill="#f7f7f7" transform="translate(0,6)"/>
<polygon points="0,102.16 12.4,105.16 12.4,111.16 0,108.16" fill="#f7f7f7" transform="translate(0,6)"/>
<polygon points="0,117.64 12.4,120.64 12.4,126.64 0,123.64" fill="#f7f7f7" transform="translate(0,6)"/>
<polygon points="0,133.12 12.4,136.12 12.4,142.12 0,139.12" fill="#f7f7f7" transform="translate(0,6)"/>
<polygon points="0,148.60 12.4,151.60 12.4,157.60 0,154.60" fill="#f7f7f7" transform="translate(0,6)"/>
</svg>
<rect x="364.10" y="447" width="8.0" height="54" fill="#d3b155"/>
<rect x="361.90" y="500.5" width="12.4" height="141.1" fill="#8d7960"/>
<line x1="171.8" x2="419.6" y1="642" y2="642" stroke="#333333" stroke-width="1.3"/>
<line x1="171.8" x2="419.6" y1="650.2" y2="650.2" stroke="#333333" stroke-width="1.3"/>
<rect x="158.8" y="665.9" width="271.6" height="44.3" fill="#f4f4f4" stroke="#333333" stroke-width="1.3"/>
<rect x="187.8" y="710.2" width="211.8" height="43.8" fill="#f4f4f4" stroke="#333333" stroke-width="1.3"/>
</g>
<rect x="72" y="839" width="855.7" height="115.5" fill="#3353b0"/>
<rect x="171.5" y="837.5" width="1.3" height="113.3" fill="#e6e9f2"/>
<rect x="280.2" y="837.5" width="1.3" height="113.3" fill="#e6e9f2"/>
<rect x="390.2" y="837.5" width="1.3" height="113.3" fill="#e6e9f2"/>
<rect x="497.7" y="837.5" width="1.3" height="113.3" fill="#e6e9f2"/>
<rect x="606.4" y="837.5" width="1.3" height="113.3" fill="#e6e9f2"/>
<rect x="713.1999999999999" y="837.5" width="1.3" height="113.3" fill="#e6e9f2"/>
<rect x="825.1999999999999" y="837.5" width="1.3" height="113.3" fill="#e6e9f2"/>
<svg x="80" y="872.8" width="78.40" height="17.7" overflow="hidden"><rect width="100" height="17.7" fill="#1cb850"/>
<polygon points="-4.199999999999999,0 2.8000000000000007,0 -2.6999999999999993,17.7 -9.7,17.7" fill="#fff"/>
<polygon points="12.3,0 19.3,0 13.8,17.7 6.800000000000001,17.7" fill="#fff"/>
<polygon points="28.8,0 35.8,0 30.3,17.7 23.3,17.7" fill="#fff"/>
<polygon points="45.3,0 52.3,0 46.8,17.7 39.8,17.7" fill="#fff"/>
<polygon points="61.8,0 68.8,0 63.3,17.7 56.3,17.7" fill="#fff"/>
<polygon points="78.3,0 85.3,0 79.8,17.7 72.8,17.7" fill="#fff"/>
<polygon points="94.8,0 101.8,0 96.3,17.7 89.3,17.7" fill="#fff"/>
</svg>
<rect x="188.8" y="872.8" width="78.50" height="17.7" fill="#1cb850"/>
<svg x="297.8" y="872.8" width="78.20" height="17.7" overflow="hidden"><rect width="100" height="17.7" fill="#f7924f"/>
<polygon points="-4.199999999999999,0 2.8000000000000007,0 -2.6999999999999993,17.7 -9.7,17.7" fill="#fff"/>
<polygon points="12.3,0 19.3,0 13.8,17.7 6.800000000000001,17.7" fill="#fff"/>
<polygon points="28.8,0 35.8,0 30.3,17.7 23.3,17.7" fill="#fff"/>
<polygon points="45.3,0 52.3,0 46.8,17.7 39.8,17.7" fill="#fff"/>
<polygon points="61.8,0 68.8,0 63.3,17.7 56.3,17.7" fill="#fff"/>
<polygon points="78.3,0 85.3,0 79.8,17.7 72.8,17.7" fill="#fff"/>
<polygon points="94.8,0 101.8,0 96.3,17.7 89.3,17.7" fill="#fff"/>
</svg>
<rect x="405.6" y="872.8" width="78.20" height="17.7" fill="#f7924f"/>
<svg x="514" y="872.8" width="78.30" height="17.7" overflow="hidden"><rect width="100" height="17.7" fill="#44a6ec"/>
<polygon points="-4.199999999999999,0 2.8000000000000007,0 -2.6999999999999993,17.7 -9.7,17.7" fill="#fff"/>
<polygon points="12.3,0 19.3,0 13.8,17.7 6.800000000000001,17.7" fill="#fff"/>
<polygon points="28.8,0 35.8,0 30.3,17.7 23.3,17.7" fill="#fff"/>
<polygon points="45.3,0 52.3,0 46.8,17.7 39.8,17.7" fill="#fff"/>
<polygon points="61.8,0 68.8,0 63.3,17.7 56.3,17.7" fill="#fff"/>
<polygon points="78.3,0 85.3,0 79.8,17.7 72.8,17.7" fill="#fff"/>
<polygon points="94.8,0 101.8,0 96.3,17.7 89.3,17.7" fill="#fff"/>
</svg>
<rect x="620.6" y="872.8" width="78.30" height="17.7" fill="#44a6ec"/>
<svg x="731.6" y="872.8" width="78.50" height="17.7" overflow="hidden"><rect width="100" height="17.7" fill="#927e64"/>
<polygon points="-4.199999999999999,0 2.8000000000000007,0 -2.6999999999999993,17.7 -9.7,17.7" fill="#fff"/>
<polygon points="12.3,0 19.3,0 13.8,17.7 6.800000000000001,17.7" fill="#fff"/>
<polygon points="28.8,0 35.8,0 30.3,17.7 23.3,17.7" fill="#fff"/>
<polygon points="45.3,0 52.3,0 46.8,17.7 39.8,17.7" fill="#fff"/>
<polygon points="61.8,0 68.8,0 63.3,17.7 56.3,17.7" fill="#fff"/>
<polygon points="78.3,0 85.3,0 79.8,17.7 72.8,17.7" fill="#fff"/>
<polygon points="94.8,0 101.8,0 96.3,17.7 89.3,17.7" fill="#fff"/>
</svg>
<rect x="840.7" y="872.8" width="78.30" height="17.7" fill="#927e64"/>
<text x="122.1" y="927.9" text-anchor="middle" font-family="Liberation Sans, sans-serif" font-size="14.6" fill="#fff" stroke="#fff" stroke-width="0.25" textLength="85.4" lengthAdjust="spacingAndGlyphs">White Green</text>
<text x="229.9" y="927.9" text-anchor="middle" font-family="Liberation Sans, sans-serif" font-size="14.6" fill="#fff" stroke="#fff" stroke-width="0.25" textLength="42.6" lengthAdjust="spacingAndGlyphs">Green</text>
<text x="334.3" y="927.9" text-anchor="middle" font-family="Liberation Sans, sans-serif" font-size="14.6" fill="#fff" stroke="#fff" stroke-width="0.25" textLength="94.4" lengthAdjust="spacingAndGlyphs">White Orange</text>
<text x="443.5" y="927.9" text-anchor="middle" font-family="Liberation Sans, sans-serif" font-size="14.6" fill="#fff" stroke="#fff" stroke-width="0.25" textLength="51.2" lengthAdjust="spacingAndGlyphs">Orange</text>
<text x="553.7" y="927.9" text-anchor="middle" font-family="Liberation Sans, sans-serif" font-size="14.6" fill="#fff" stroke="#fff" stroke-width="0.25" textLength="75.4" lengthAdjust="spacingAndGlyphs">White Blue</text>
<text x="658.4" y="927.9" text-anchor="middle" font-family="Liberation Sans, sans-serif" font-size="14.6" fill="#fff" stroke="#fff" stroke-width="0.25" textLength="32.0" lengthAdjust="spacingAndGlyphs">Blue</text>
<text x="769.5" y="927.9" text-anchor="middle" font-family="Liberation Sans, sans-serif" font-size="14.6" fill="#fff" stroke="#fff" stroke-width="0.25" textLength="89.0" lengthAdjust="spacingAndGlyphs">White Brown</text>
<text x="880.8" y="927.9" text-anchor="middle" font-family="Liberation Sans, sans-serif" font-size="14.6" fill="#fff" stroke="#fff" stroke-width="0.25" textLength="45.8" lengthAdjust="spacingAndGlyphs">Brown</text>
<text x="500.6" y="379.6" text-anchor="middle" font-family="Liberation Sans, sans-serif" font-weight="bold" font-size="29.3" fill="#0a0a0a" textLength="153.6" lengthAdjust="spacingAndGlyphs">LAN Cable</text>
<text x="294.6" y="795.7" text-anchor="middle" font-family="Liberation Sans, sans-serif" font-size="27" fill="#0a0a0a" stroke="#0a0a0a" stroke-width="0.25" textLength="88.8" lengthAdjust="spacingAndGlyphs">T568A</text>
<text x="679.3" y="795.7" text-anchor="middle" font-family="Liberation Sans, sans-serif" font-size="27" fill="#0a0a0a" stroke="#0a0a0a" stroke-width="0.25" textLength="88.4" lengthAdjust="spacingAndGlyphs">T568B</text>
</svg>
</body></html>
